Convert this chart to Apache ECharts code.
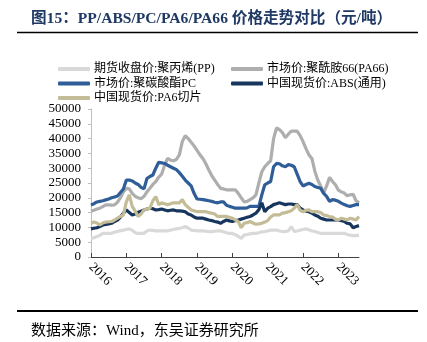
<!DOCTYPE html>
<html><head><meta charset="utf-8">
<script src="https://cdn.jsdelivr.net/npm/echarts@6/dist/echarts.min.js"></script>
<style>html,body{margin:0;padding:0;background:#fff}#c{width:427px;height:342px}</style>
</head><body><div id="c"></div>
<script>
// Monthly categories Jan 2016 .. Aug 2023
var months = [];
for (var y = 2016; y <= 2023; y++) { for (var mm = 1; mm <= 12; mm++) { if (y === 2023 && mm > 8) break; months.push(y + '-' + (mm < 10 ? '0' + mm : mm)); } }

var yTicks = [0, 5000, 10000, 15000, 20000, 25000, 30000, 35000, 40000, 45000, 50000];

// values in thousand yuan/ton
var pp = [6.3,6.5,6.9,7.3,8,8,8,8,8.4,8.6,8.9,9.1,9.3,9.5,9,8.2,8,8,8,8.8,9.1,9,8.8,8.8,8.8,8.8,8.8,9.1,9.3,9.5,9.7,9.9,10.3,9.8,9.1,9,8.8,8.8,8.8,8.7,8.6,8.6,8.7,8.8,8.8,8.5,8.2,8,8,7.5,7,6.3,7.4,7.6,7.8,8,8,8.2,8.5,8.6,8.8,9.1,9.1,9.1,8.8,8.6,8.6,8.8,10.3,8.6,8.8,9.1,9.3,9.5,9.2,8.8,8.6,8.3,8,8,8,8,8,8,8,8,8,7.6,7.4,7.2,7.2,7.4];
var pa66 = [15.5,15.8,16.2,16.5,17,17.6,17.6,17.5,17.6,18.5,20,22,23.2,23,21.5,20.5,20,19.7,20.5,22,23.2,24.5,25.5,27,28,31,33.3,32.7,32.5,33,34.5,39,41,40,38.8,37.5,36,34.5,33.3,31.5,29.4,27.5,26,24.5,23.2,23,22.7,22.7,22.7,22.7,21.5,20,18.6,18.8,19.4,20,21,25,28.8,30.5,31.6,32.5,40,43.6,43,42,40.3,41.5,42.5,42.5,42.5,41,39,36.6,34.5,33.3,29,26,24,21.6,24,26.9,25.5,24.4,22.6,22,21.6,20.7,21,21.2,19,18.3];
var pc = [17.6,18,18.6,18.8,19,19.3,19.6,20,20.3,20.6,21.8,23,26,26,25.7,25,24.5,23.5,23,26.5,27.2,27.7,30,32,31.8,31.6,31,30.5,30,29.5,28.5,27.3,26,25,24,21.5,19.6,19.5,19.4,19.2,19,18.8,18.5,18.3,18.6,18.6,17.5,17.1,16.8,16.5,16.5,16.5,16.5,16.6,17.1,17.1,17.1,17.1,21,24.4,25,25.5,30.5,31.6,31.5,30.8,30.5,31.2,31,30.5,28,25.5,24,24.5,24.9,24.5,23.8,23.5,23.2,21.5,20.5,18.8,19.4,19.2,18.8,18.2,17.7,17.3,17.1,17.4,17.7,17.7];
var abs = [9.5,9.7,9.9,10.3,10.8,11,11.2,11.4,12,12.5,13.5,14.8,15.9,15,14.2,14.5,15.1,15.5,15.9,16.2,16.5,16.3,15.9,16,16.2,15.9,15.6,15.8,15.9,15.6,15.6,15.5,15.3,14.5,14.2,13.5,13.1,13.1,13.1,12.8,12.5,12.3,12,11.8,11.4,12,12.5,12.2,12,12.3,12.5,12.8,13.1,13.4,13.7,14.2,14.8,16,18.3,15.3,16.5,17,17.7,18,18.3,18,17.7,17.9,17.9,17.7,17.7,16.5,15.9,15.5,15.3,14.8,14.2,13.8,13.1,12.8,12.5,12.5,12.5,12.5,12.5,12.3,12,11.4,11.2,9.9,10.3,10.6];
var pa6 = [11.4,11.8,11.5,10.8,11.5,11.8,11.9,12,12.5,13.1,13.7,14.2,18.6,21,17.1,15.5,13.7,14.5,15.9,16.2,16.5,19,20.4,17.7,18.3,18,17.7,18,18.3,18.3,18.3,19.4,17.7,16.8,15.9,15.6,15.3,15.3,15.3,15.3,15,14.8,14.5,13.7,13.7,13.7,13.7,13.4,13.1,12.5,12,9.9,11.4,11.6,12,11.5,11.1,11.2,11.4,11.8,12.3,13.5,14.2,14.2,14.2,14.8,15,15.3,15.6,16.5,17.7,15.8,15.3,15.8,15.9,15.3,15.3,15.3,15,14.2,14,13.7,13.5,12.8,12.5,13.1,12.8,12.5,13.1,12.8,12.5,13.7];

var names = ['期货收盘价:聚丙烯(PP)', '市场价:聚酰胺66(PA66)', '市场价:聚碳酸酯PC', '中国现货价:ABS(通用)', '中国现货价:PA6切片'];
var colors = ['#d9d9d9', '#aeaeae', '#2f5d98', '#17365d', '#c4bc96'];
var seriesData = [pp, pa66, pc, abs, pa6];

function k(arr) { return arr.map(function (v) { return Math.round(v * 1000); }); }
var serif = '"Liberation Serif","Times New Roman","Noto Sans CJK SC",serif';
var isJan = function (i, v) { return /-01$/.test(v); };

var chart = echarts.init(document.getElementById('c'), null, { renderer: 'canvas' });
chart.setOption({
  animation: false,
  backgroundColor: '#fff',
  title: [
    { text: '图15：PP/ABS/PC/PA6/PA66 价格走势对比（元/吨）', left: 26, top: 6,
      textStyle: { fontFamily: serif, fontSize: 15.6, fontWeight: 'bold', color: '#1f3864' } },
    { text: '数据来源：Wind，东吴证券研究所', left: 26, top: 319,
      textStyle: { fontFamily: serif, fontSize: 15, fontWeight: 'normal', color: '#000' } }
  ],
  graphic: [
    { type: 'line', shape: { x1: 17, y1: 32.5, x2: 418, y2: 32.5 }, style: { stroke: '#000', lineWidth: 1.5 } },
    { type: 'line', shape: { x1: 17, y1: 311, x2: 418, y2: 311 }, style: { stroke: '#000', lineWidth: 2 } }
  ],
  legend: [
    { data: [names[0], names[2], names[4]], orient: 'vertical', left: 53, top: 58, itemGap: 2.5,
      icon: 'roundRect', itemWidth: 32, itemHeight: 4, textStyle: { fontFamily: serif, fontSize: 12, color: '#000', padding: [0, 0, 0, -1] } },
    { data: [names[1], names[3]], orient: 'vertical', left: 226, top: 58, itemGap: 2.5,
      icon: 'roundRect', itemWidth: 32, itemHeight: 4, textStyle: { fontFamily: serif, fontSize: 12, color: '#000', padding: [0, 0, 0, -1] } }
  ],
  grid: { left: 91, right: 68, top: 109, bottom: 85, containLabel: false },
  xAxis: {
    type: 'category', data: months, boundaryGap: false,
    axisLine: { lineStyle: { color: '#404040', width: 1 } },
    axisTick: { interval: isJan, length: 4, inside: true, lineStyle: { color: '#404040' } },
    axisLabel: { interval: isJan, rotate: -45, margin: 8, fontFamily: serif, fontSize: 13, color: '#000',
      formatter: function (v) { return v.slice(0, 4); } },
    splitLine: { show: false }
  },
  yAxis: {
    type: 'value', min: yTicks[0], max: yTicks[yTicks.length - 1], interval: 5000,
    axisLine: { show: true, lineStyle: { color: '#bfbfbf' } },
    axisTick: { show: true, length: 3, lineStyle: { color: '#bfbfbf' } },
    axisLabel: { fontFamily: serif, fontSize: 13, color: '#000', margin: 10,
      formatter: function (v) { return String(v); } },
    splitLine: { show: false }
  },
  series: seriesData.map(function (d, i) {
    return { name: names[i], type: 'line', data: k(d), symbol: 'none', smooth: false,
      lineStyle: { color: colors[i], width: 3.2 }, itemStyle: { color: colors[i] }, z: 2 + i };
  })
});
</script></body></html>
